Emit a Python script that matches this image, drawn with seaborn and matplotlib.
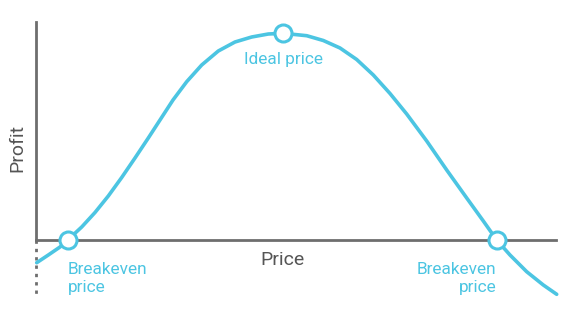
import matplotlib
matplotlib.use("Agg")
import matplotlib.pyplot as plt
import seaborn as sns
import pandas as pd

sns.set_theme(style="white")
plt.rcParams['font.family'] = ['Roboto', 'DejaVu Sans']

# Curve data (price vs profit)
price = [36.7, 48.3, 60, 67.7, 81.7, 95, 108.3, 121.7, 135, 148.3, 160, 173,
         186.7, 201.7, 218.3, 235, 251.7, 268.3, 283, 306.7, 323.3, 340,
         356.7, 373.3, 390, 406.7, 426.7, 446.7, 466.7, 483.3, 496.7, 510,
         526.7, 543.3, 556.7]
profit = [-22.7, -15, -7, 0, 13, 27.5, 44, 62.5, 82, 102, 120,
          140, 158.3, 175, 189, 198, 203, 206, 206.7, 204.3, 199.5, 192,
          180.5, 165, 146.5, 126, 99, 70, 42, 19, 0, -15, -31.7,
          -45, -54.3]

key_price = [67.7, 283, 496.7]
key_profit = [0, 206.7, 0]
key_labels = ["Breakeven\nprice", "Ideal price", "Breakeven\nprice"]

BLUE = "#4CC5E2"
GRAY = "#6E6E6E"

fig = plt.figure(figsize=(5.75, 3.23), dpi=100)
ax = fig.add_axes([0, 0, 1, 1])
ax.set_xlim(0, 575)
ax.set_ylim(-83, 240)

df = pd.DataFrame({"Price": price, "Profit": profit})
sns.lineplot(data=df, x="Price", y="Profit", ax=ax, color=BLUE, lw=2.6,
             sort=False, zorder=3, solid_joinstyle="round",
             solid_capstyle="round")

# axes
for s in ["top", "right"]:
    ax.spines[s].set_visible(False)
ax.spines["left"].set_position(("data", 36))
ax.spines["left"].set_bounds(0, 218)
ax.spines["bottom"].set_position(("data", 0))
ax.spines["bottom"].set_bounds(36, 556)
for s in ["left", "bottom"]:
    ax.spines[s].set_color(GRAY)
    ax.spines[s].set_linewidth(2.0)
    ax.spines[s].set_zorder(2)
ax.plot([36, 36], [0, -55], color=GRAY, lw=2.0, ls=(0, (1.2, 1.8)), zorder=2)
ax.set_xticks([])
ax.set_yticks([])
ax.set_xlabel("")
ax.set_ylabel("")

sns.scatterplot(x=key_price, y=key_profit, ax=ax, s=150, color="white",
                edgecolor=BLUE, linewidth=2.2, zorder=4)

ax.text(key_price[0], -22, key_labels[0], color=BLUE, fontsize=12.4,
        ha="left", va="top", linespacing=1.25)
ax.text(key_price[1], 188, key_labels[1], color=BLUE, fontsize=12.4,
        ha="center", va="top")
ax.text(key_price[2], -22, key_labels[2], color=BLUE, fontsize=12.4,
        ha="right", va="top", linespacing=1.25)

ax.text(283, -11, "Price", color="#555555", fontsize=14, ha="center", va="top")
ax.text(17, 92, "Profit", color="#555555", fontsize=14, ha="center",
        va="center", rotation=90)

fig.savefig("out.png", dpi=100)
